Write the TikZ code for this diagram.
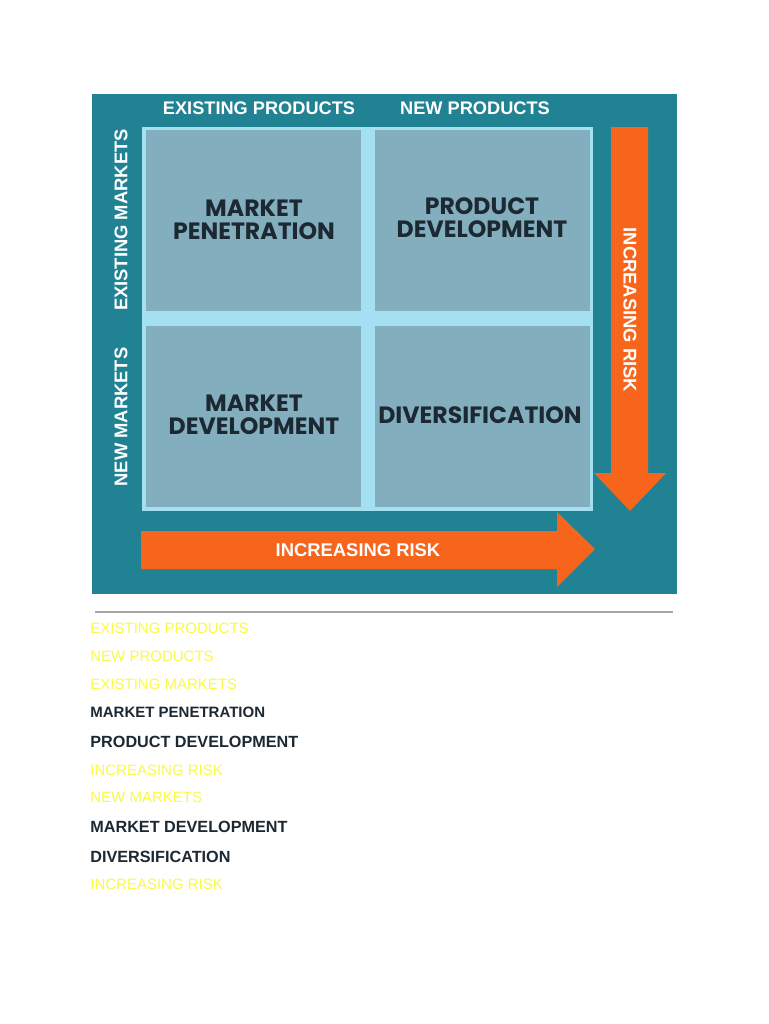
\documentclass[tikz,border=0pt]{standalone}
\usepackage{fontspec}
\setmainfont{Liberation Sans}
\newfontfamily\cellfont{Poppins}
\definecolor{teal}{RGB}{32,130,147}
\definecolor{frame}{RGB}{164,223,242}
\definecolor{cellfill}{RGB}{130,174,190}
\definecolor{risk}{RGB}{247,101,28}
\definecolor{ink}{RGB}{28,40,50}
\definecolor{note}{RGB}{250,250,70}
\begin{document}
\begin{tikzpicture}
    [x=0.5pt,y=-0.5pt,
    cell/.style={fill=cellfill},
    celltext/.style={text=ink,align=center,font=\cellfont\bfseries\fontsize{11.8}{11.5}\selectfont},
    head/.style={text=white,font=\bfseries\fontsize{9.1}{10}\selectfont},
    side/.style={text=white,rotate=90,font=\bfseries\fontsize{9.2}{10}\selectfont},
    risktext/.style={text=white,font=\bfseries\fontsize{9.2}{10}\selectfont},
    line/.style={anchor=base west,inner sep=0pt,text=note,font=\fontsize{7.5}{9}\selectfont},
    boldline/.style={anchor=base west,inner sep=0pt,text=ink,font=\bfseries\fontsize{8.1}{9}\selectfont}]
		\useasboundingbox (0,0) rectangle (768,1024);
		\fill[white] (0,0) rectangle (768,1024);

		\fill[teal] (92,94) rectangle (677,594);
		\fill[frame] (142,127) rectangle (593,511);

		\fill[cell] (146,130) rectangle (361,311);
		\fill[cell] (375,130) rectangle (590,311);
		\fill[cell] (146,326) rectangle (361,507);
		\fill[cell] (375,326) rectangle (590,507);

		\node [celltext] (pen) at (254,220) {MARKET\\PENETRATION};
		\node [celltext] (pdev) at (482,218) {PRODUCT\\DEVELOPMENT};
		\node [celltext] (mdev) at (254,415) {MARKET\\DEVELOPMENT};
		\node [celltext] (div) at (480,415) {DIVERSIFICATION};

		\node [head] (expro) at (259,108) {EXISTING PRODUCTS};
		\node [head] (newpro) at (475,108) {NEW PRODUCTS};
		\node [side] (exmkt) at (121,220) {EXISTING MARKETS};
		\node [side] (newmkt) at (121,417) {NEW MARKETS};

		% risk arrows
		\fill[risk] (611,127) -- (648,127) -- (648,473) -- (666,473) -- (630,511) -- (594,473) -- (611,473) -- cycle;
		\node [risktext,rotate=-90] (riskv) at (630,310) {INCREASING RISK};
		\fill[risk] (141,531) -- (557,531) -- (557,512) -- (595,549) -- (557,587) -- (557,569) -- (141,569) -- cycle;
		\node [risktext] (riskh) at (358,550) {INCREASING RISK};

		\draw[black!35,line width=0.6pt] (95,612) -- (673,612);

		\node [line] (t1) at (90,633) {EXISTING PRODUCTS};
		\node [line] (t2) at (90,661) {NEW PRODUCTS};
		\node [line] (t3) at (90,689) {EXISTING MARKETS};
		\node [boldline,font=\bfseries\fontsize{7.5}{9}\selectfont] (t4) at (90,717) {MARKET PENETRATION};
		\node [boldline] (t5) at (90,747) {PRODUCT DEVELOPMENT};
		\node [line] (t6) at (90,775) {INCREASING RISK};
		\node [line] (t7) at (90,802) {NEW MARKETS};
		\node [boldline] (t8) at (90,832) {MARKET DEVELOPMENT};
		\node [boldline] (t9) at (90,862) {DIVERSIFICATION};
		\node [line] (t10) at (90,889) {INCREASING RISK};
    \end{tikzpicture}
\end{document}
